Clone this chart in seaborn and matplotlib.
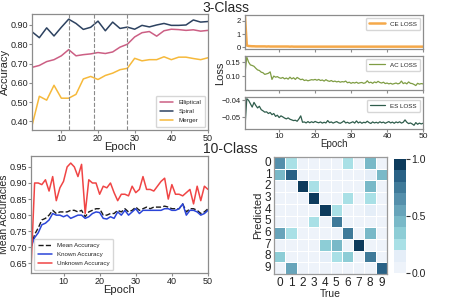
import numpy as np
import pandas as pd
import matplotlib
matplotlib.use("Agg")
import matplotlib.pyplot as plt
import seaborn as sns
from matplotlib.colors import ListedColormap

# ----------------------------------------------------
# Data: 3-class accuracy (every 2 epochs)
# ----------------------------------------------------

acc_epochs = list(range(2, 51, 2))

elliptical = [0.680, 0.690, 0.710, 0.720, 0.740, 0.772, 0.740, 0.746, 0.750, 0.757,
              0.752, 0.760, 0.785, 0.800, 0.838, 0.860, 0.866, 0.842, 0.870, 0.878,
              0.876, 0.872, 0.875, 0.868, 0.872]

spiral = [0.865, 0.834, 0.885, 0.843, 0.888, 0.930, 0.908, 0.877, 0.888, 0.920,
          0.870, 0.915, 0.882, 0.889, 0.878, 0.898, 0.890, 0.900, 0.908, 0.898,
          0.898, 0.900, 0.926, 0.915, 0.918]

merger = [0.377, 0.530, 0.510, 0.587, 0.520, 0.520, 0.540, 0.620, 0.633, 0.617,
          0.638, 0.650, 0.668, 0.675, 0.727, 0.714, 0.720, 0.720, 0.735, 0.720,
          0.733, 0.733, 0.726, 0.720, 0.730]

stage_epochs = [12, 19, 28]

# ----------------------------------------------------
# Data: 3-class losses (every half epoch)
# ----------------------------------------------------

loss_epochs = [i / 2 for i in range(1, 101)]

ce_loss = [2.35, 0.12, 0.08, 0.07, 0.06, 0.06, 0.05, 0.05, 0.05, 0.05,
           0.05, 0.05, 0.04, 0.05, 0.04, 0.04, 0.04, 0.04, 0.04, 0.04,
           0.04, 0.04, 0.04, 0.04, 0.04, 0.03, 0.04, 0.03, 0.03, 0.03,
           0.03, 0.03, 0.03, 0.03, 0.03, 0.03, 0.03, 0.03, 0.03, 0.03,
           0.03, 0.03, 0.03, 0.03, 0.03, 0.03, 0.03, 0.03, 0.03, 0.03,
           0.03, 0.03, 0.03, 0.03, 0.03, 0.03, 0.03, 0.03, 0.03, 0.03,
           0.03, 0.03, 0.03, 0.03, 0.03, 0.03, 0.03, 0.03, 0.03, 0.03,
           0.03, 0.03, 0.03, 0.03, 0.03, 0.03, 0.03, 0.03, 0.03, 0.03,
           0.03, 0.03, 0.03, 0.03, 0.03, 0.03, 0.03, 0.03, 0.03, 0.03,
           0.03, 0.03, 0.03, 0.03, 0.03, 0.03, 0.03, 0.03, 0.03, 0.03]

ac_loss = [0.110, 0.168, 0.150, 0.140, 0.138, 0.135, 0.128, 0.122, 0.120, 0.114,
           0.112, 0.106, 0.108, 0.110, 0.115, 0.088, 0.100, 0.096, 0.098, 0.094,
           0.092, 0.095, 0.090, 0.093, 0.089, 0.096, 0.090, 0.094, 0.088, 0.095,
           0.091, 0.087, 0.089, 0.084, 0.086, 0.083, 0.085, 0.087, 0.086, 0.088,
           0.085, 0.088, 0.084, 0.086, 0.082, 0.087, 0.083, 0.081, 0.084, 0.080,
           0.082, 0.079, 0.081, 0.078, 0.080, 0.079, 0.082, 0.076, 0.078, 0.074,
           0.077, 0.075, 0.078, 0.074, 0.076, 0.077, 0.074, 0.076, 0.083, 0.076,
           0.078, 0.074, 0.079, 0.076, 0.081, 0.077, 0.075, 0.078, 0.073, 0.075,
           0.072, 0.074, 0.071, 0.073, 0.075, 0.072, 0.074, 0.082, 0.073, 0.076,
           0.072, 0.079, 0.074, 0.073, 0.070, 0.066, 0.074, 0.071, 0.073, 0.072]

es_loss = [-0.0555, -0.0390, -0.0400, -0.0420, -0.0440, -0.0412, -0.0430, -0.0445, -0.0435, -0.0455,
           -0.0462, -0.0470, -0.0468, -0.0478, -0.0472, -0.0485, -0.0478, -0.0495, -0.0488, -0.0502,
           -0.0492, -0.0498, -0.0505, -0.0510, -0.0504, -0.0512, -0.0516, -0.0520, -0.0518, -0.0524,
           -0.0510, -0.0492, -0.0530, -0.0528, -0.0534, -0.0526, -0.0533, -0.0527, -0.0532, -0.0525,
           -0.0530, -0.0533, -0.0528, -0.0535, -0.0530, -0.0534, -0.0520, -0.0532, -0.0528, -0.0535,
           -0.0530, -0.0526, -0.0533, -0.0536, -0.0530, -0.0522, -0.0534, -0.0530, -0.0536, -0.0532,
           -0.0527, -0.0535, -0.0522, -0.0534, -0.0528, -0.0536, -0.0530, -0.0533, -0.0524, -0.0532,
           -0.0537, -0.0528, -0.0534, -0.0530, -0.0535, -0.0527, -0.0533, -0.0529, -0.0536, -0.0531,
           -0.0526, -0.0534, -0.0529, -0.0536, -0.0528, -0.0533, -0.0527, -0.0535, -0.0530, -0.0516,
           -0.0530, -0.0538, -0.0534, -0.0540, -0.0548, -0.0532, -0.0542, -0.0535, -0.0540, -0.0536]

# ----------------------------------------------------
# Data: 10-class accuracies (every epoch)
# ----------------------------------------------------

epochs10 = list(range(1, 51))

unknown_acc = [0.630, 0.900, 0.900, 0.895, 0.910, 0.875, 0.920, 0.845, 0.885, 0.905,
               0.950, 0.962, 0.950, 0.920, 0.958, 0.805, 0.910, 0.900, 0.900, 0.865,
               0.890, 0.885, 0.900, 0.870, 0.845, 0.865, 0.865, 0.860, 0.890, 0.870,
               0.880, 0.920, 0.880, 0.880, 0.875, 0.890, 0.905, 0.915, 0.850, 0.895,
               0.865, 0.865, 0.860, 0.870, 0.880, 0.835, 0.890, 0.845, 0.890, 0.880]

known_acc = [0.700, 0.730, 0.745, 0.770, 0.775, 0.785, 0.805, 0.800, 0.800, 0.795,
             0.800, 0.790, 0.795, 0.800, 0.800, 0.790, 0.795, 0.805, 0.810, 0.808,
             0.790, 0.788, 0.795, 0.790, 0.810, 0.800, 0.815, 0.800, 0.810, 0.820,
             0.805, 0.815, 0.815, 0.815, 0.815, 0.815, 0.815, 0.820, 0.820, 0.815,
             0.815, 0.820, 0.835, 0.800, 0.815, 0.815, 0.810, 0.800, 0.805, 0.815]

mean_acc = [0.700, 0.740, 0.760, 0.785, 0.790, 0.800, 0.815, 0.805, 0.810, 0.810,
            0.810, 0.815, 0.815, 0.810, 0.815, 0.795, 0.810, 0.815, 0.820, 0.820,
            0.800, 0.800, 0.805, 0.805, 0.815, 0.810, 0.820, 0.810, 0.815, 0.825,
            0.815, 0.820, 0.825, 0.820, 0.825, 0.825, 0.825, 0.828, 0.825, 0.820,
            0.820, 0.820, 0.835, 0.810, 0.820, 0.820, 0.815, 0.805, 0.810, 0.820]

# ----------------------------------------------------
# Data: 10-class confusion matrix (rows = Predicted, cols = True)
# ----------------------------------------------------

class_labels = [str(i) for i in range(10)]

conf = [
    [0.60, 0.25, 0.05, 0.05, 0.08, 0.08, 0.25, 0.03, 0.40, 0.05],
    [0.45, 0.85, 0.05, 0.05, 0.05, 0.08, 0.08, 0.05, 0.15, 0.40],
    [0.03, 0.05, 1.00, 0.25, 0.03, 0.05, 0.08, 0.03, 0.45, 0.05],
    [0.05, 0.08, 0.03, 0.90, 0.03, 0.05, 0.25, 0.03, 0.25, 0.03],
    [0.05, 0.08, 0.05, 0.05, 0.90, 0.25, 0.03, 0.05, 0.15, 0.03],
    [0.08, 0.05, 0.08, 0.28, 0.05, 0.75, 0.05, 0.03, 0.08, 0.03],
    [0.50, 0.25, 0.08, 0.08, 0.08, 0.05, 0.75, 0.08, 0.40, 0.05],
    [0.03, 0.05, 0.05, 0.08, 0.35, 0.45, 0.03, 0.98, 0.05, 0.08],
    [0.35, 0.08, 0.08, 0.05, 0.10, 0.25, 0.35, 0.08, 0.70, 0.03],
    [0.05, 0.50, 0.03, 0.03, 0.05, 0.05, 0.05, 0.03, 0.05, 0.85],
]

# ----------------------------------------------------
# Style
# ----------------------------------------------------

sns.set_style("ticks")
plt.rcParams["font.family"] = ["Liberation Sans", "DejaVu Sans"]
plt.rcParams["axes.edgecolor"] = "#8c8c8c"
plt.rcParams["axes.linewidth"] = 0.9
plt.rcParams["xtick.color"] = "#8c8c8c"
plt.rcParams["ytick.color"] = "#8c8c8c"
plt.rcParams["xtick.labelcolor"] = "#222222"
plt.rcParams["ytick.labelcolor"] = "#222222"
plt.rcParams["xtick.major.size"] = 2
plt.rcParams["ytick.major.size"] = 2

fig = plt.figure(figsize=(4.74, 3.07), dpi=100)

W, H = 474, 307


def box(x0, y0, x1, y1):
    return [x0 / W, 1 - y1 / H, (x1 - x0) / W, (y1 - y0) / H]


# ----------------------------------------------------
# Top-left: accuracy per class
# ----------------------------------------------------

ax1 = fig.add_axes(box(32, 14, 208, 130))

df_acc = pd.DataFrame({
    "Epoch": acc_epochs * 3,
    "Accuracy": elliptical + spiral + merger,
    "Class": ["Elliptical"] * 25 + ["Spiral"] * 25 + ["Merger"] * 25,
})

sns.lineplot(
    data=df_acc, x="Epoch", y="Accuracy", hue="Class",
    palette={"Elliptical": "#cc5f84", "Spiral": "#2d4260", "Merger": "#f6b93b"},
    linewidth=1.1, ax=ax1
)

for e in stage_epochs:
    ax1.axvline(e, color="#8a8a8a", linestyle="--", linewidth=0.8)

ax1.set_xlim(2, 50)
ax1.set_ylim(0.355, 0.957)
ax1.set_yticks([0.40, 0.50, 0.60, 0.70, 0.80, 0.90])
ax1.set_yticklabels(["0.40", "0.50", "0.60", "0.70", "0.80", "0.90"])
ax1.set_xticks([10, 20, 30, 40, 50])
ax1.tick_params(labelsize=6.5, pad=1)
ax1.set_xlabel("Epoch", fontsize=8, labelpad=-1)
ax1.set_ylabel("Accuracy", fontsize=8, labelpad=0)
ax1.legend(loc="lower right", fontsize=4.5, frameon=True, handlelength=2.2,
           borderpad=0.6, labelspacing=0.6)

# ----------------------------------------------------
# Top-right: loss panels
# ----------------------------------------------------

loss_specs = [
    (box(245, 15, 423, 49), ce_loss, "CE LOSS", "#f5a94a", (-0.15, 2.46), [0, 1, 2], ["0", "1", "2"]),
    (box(245, 56, 423, 90), ac_loss, "AC LOSS", "#7f9d44", (0.05, 0.172), [0.10, 0.15], ["0.10", "0.15"]),
    (box(245, 97, 423, 129), es_loss, "ES LOSS", "#2f5d4c", (-0.057, -0.038), [-0.05, -0.04], ["\u22120.05", "\u22120.04"]),
]

loss_axes = []
for rect, vals, name, col, ylim, yt, ytl in loss_specs:
    ax = fig.add_axes(rect)
    sns.lineplot(x=loss_epochs, y=vals, color=col, linewidth=0.9 if name != "CE LOSS" else 1.8,
                 label=name, ax=ax)
    ax.set_xlim(0.5, 50)
    ax.set_ylim(*ylim)
    ax.set_yticks(yt)
    ax.set_yticklabels(ytl)
    ax.set_xticks([10, 20, 30, 40, 50])
    ax.tick_params(labelsize=5.5, pad=1)
    ax.legend(loc="upper right", fontsize=4.5, frameon=True, handlelength=2.5, borderpad=0.5)
    loss_axes.append(ax)

for ax in loss_axes[:2]:
    ax.set_xticklabels([])
loss_axes[1].set_ylabel("Loss", fontsize=8, labelpad=1)
loss_axes[2].set_xlabel("Epoch", fontsize=7, labelpad=-1)
loss_axes[2].tick_params(axis="x", labelsize=6)

# ----------------------------------------------------
# Bottom-left: 10-class mean accuracies
# ----------------------------------------------------

ax3 = fig.add_axes(box(31, 156, 208, 273))

sns.lineplot(x=epochs10, y=mean_acc, color="#1a1a1a", linestyle="--", linewidth=1.0,
             label="Mean Accuracy", ax=ax3)
sns.lineplot(x=epochs10, y=known_acc, color="#2b45d8", linewidth=1.1,
             label="Known Accuracy", ax=ax3)
sns.lineplot(x=epochs10, y=unknown_acc, color="#f04545", linewidth=1.1,
             label="Unknown Accuracy", ax=ax3)

ax3.set_xlim(1, 50)
ax3.set_ylim(0.62, 0.984)
ax3.set_yticks([0.65, 0.70, 0.75, 0.80, 0.85, 0.90, 0.95])
ax3.set_yticklabels(["0.65", "0.70", "0.75", "0.80", "0.85", "0.90", "0.95"])
ax3.set_xticks([10, 20, 30, 40, 50])
ax3.tick_params(labelsize=6.5, pad=1)
ax3.set_xlabel("Epoch", fontsize=8, labelpad=-1)
ax3.set_ylabel("Mean Accuracies", fontsize=7.5, labelpad=0)
ax3.legend(loc="lower left", fontsize=4.5, frameon=True, handlelength=2.2,
           borderpad=0.6, labelspacing=0.6)

# ----------------------------------------------------
# Bottom-right: confusion matrix heatmap
# ----------------------------------------------------

ax4 = fig.add_axes(box(274, 157, 387, 274))
cax = fig.add_axes(box(394, 159, 406, 273))

cmap = ListedColormap(["#eef3fa", "#e5eef8", "#a9e0e6", "#8dcdd6", "#79b9c8",
                       "#67a4ba", "#548fab", "#3f7a99", "#296185", "#0d3b5c"])

sns.heatmap(
    np.array(conf), cmap=cmap, vmin=0, vmax=1,
    linewidths=0.6, linecolor="white",
    xticklabels=class_labels, yticklabels=class_labels,
    cbar_ax=cax, cbar_kws={"ticks": [0.0, 0.5, 1.0]},
    ax=ax4
)

for s in ax4.spines.values():
    s.set_visible(True)
    s.set_color("#9a9a9a")
    s.set_linewidth(0.9)

ax4.tick_params(length=0, labelsize=8.5, pad=2)
ax4.set_yticklabels(class_labels, rotation=0)
ax4.set_xlabel("True", fontsize=7.5, labelpad=0)
ax4.set_ylabel("Predicted", fontsize=8, labelpad=1)

cax.tick_params(labelsize=7.5, length=3, width=0.8, color="#333333", pad=1)
cax.set_yticklabels(["0.0", "0.5", "1.0"])
for s in cax.spines.values():
    s.set_visible(False)

# ----------------------------------------------------
# Section titles
# ----------------------------------------------------

fig.text(226 / W, 1 - 8 / H, "3-Class", fontsize=10, ha="center", va="center")
fig.text(230 / W, 1 - 149 / H, "10-Class", fontsize=10, ha="center", va="center")

fig.savefig("out.png", dpi=100)
